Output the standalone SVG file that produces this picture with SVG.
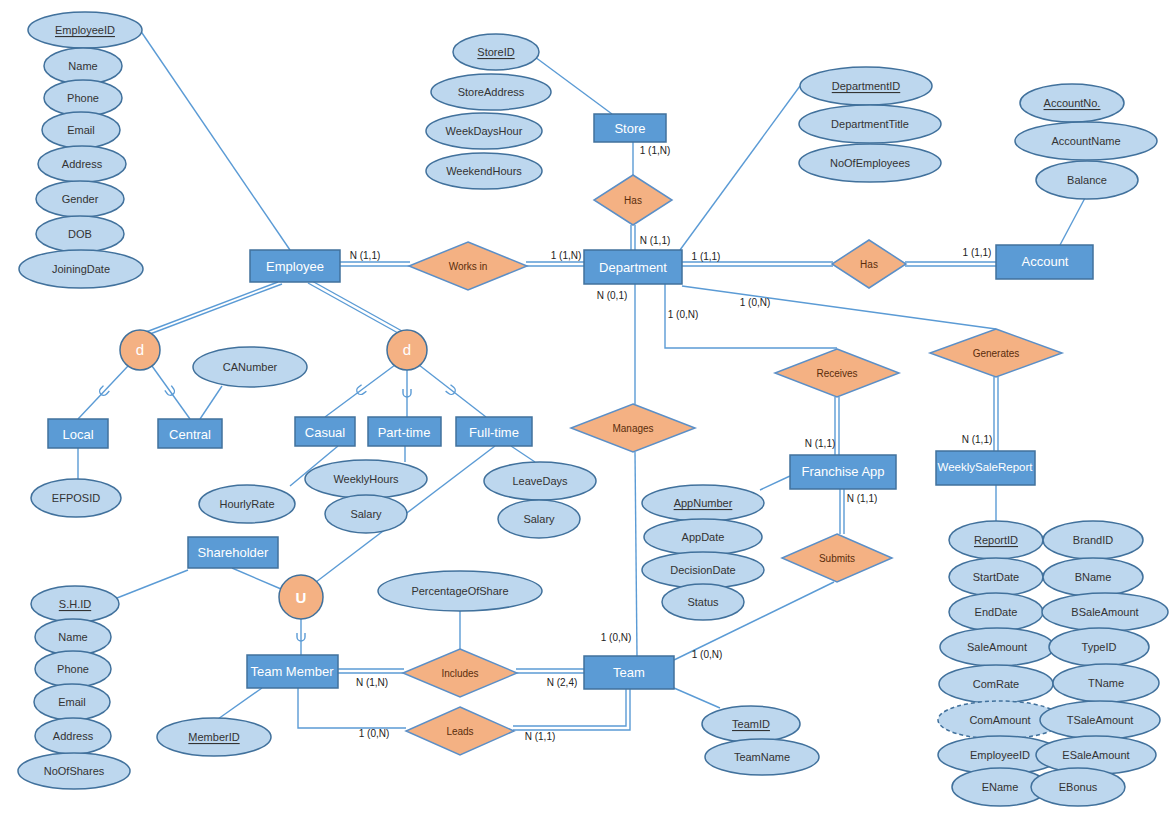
<svg xmlns="http://www.w3.org/2000/svg" width="1174" height="820" viewBox="0 0 1174 820">
<style>
text{font-family:"Liberation Sans",Arial,sans-serif;text-anchor:middle;dominant-baseline:central}
.ent rect{fill:#5b9bd5;stroke:#41719c;stroke-width:1.5}
.ent text{fill:#fff;font-size:13px}
.rel polygon{fill:#f4b183;stroke:#5b8fc7;stroke-width:1.5}
.rel text{fill:#5a2d0c;font-size:10px}
.att ellipse{fill:#bdd7ee;stroke:#41719c;stroke-width:1.5}
.att text{fill:#333;font-size:11px}
.key{text-decoration:underline}
.dash{stroke-dasharray:4,3}
.spec circle{fill:#f4b183;stroke:#41719c;stroke-width:1.5}
.spec text{fill:#fff;font-size:15px}
#conn line,#conn polyline{stroke:#5b9bd5;stroke-width:1.4;fill:none}
.lbl{font-size:10px;fill:#222}
</style>
<defs><path id="u" d="M-4,-5 v4 a4,4 0 0 0 8,0 v-4" fill="none" stroke="#5b9bd5" stroke-width="1.4"/></defs>
<g id="conn">
<line x1="140" y1="30" x2="290" y2="250"/>
<line x1="340" y1="262" x2="410" y2="262"/><line x1="340" y1="266" x2="410" y2="266"/>
<line x1="526" y1="262" x2="584" y2="262"/><line x1="526" y1="266" x2="584" y2="266"/>
<line x1="535" y1="57" x2="612" y2="114"/>
<line x1="633" y1="142" x2="633" y2="175"/>
<line x1="631" y1="225" x2="631" y2="250"/><line x1="635" y1="225" x2="635" y2="250"/>
<line x1="800" y1="86" x2="680" y2="250"/>
<line x1="682" y1="262" x2="833" y2="262"/><line x1="682" y1="266" x2="833" y2="266"/>
<line x1="905" y1="262" x2="996" y2="262"/><line x1="905" y1="266" x2="996" y2="266"/>
<line x1="1085" y1="198" x2="1060" y2="245"/>
<line x1="635" y1="284" x2="635" y2="404"/>
<line x1="635" y1="452" x2="637" y2="656"/>
<polyline points="665,284 665,348 837,348"/>
<line x1="835" y1="397" x2="835" y2="455"/><line x1="839" y1="397" x2="839" y2="455"/>
<line x1="682" y1="286" x2="996" y2="329"/>
<line x1="994" y1="377" x2="994" y2="451"/><line x1="998" y1="377" x2="998" y2="451"/>
<line x1="996" y1="485" x2="996" y2="522"/>
<line x1="790" y1="476" x2="760" y2="490"/>
<line x1="840" y1="489" x2="840" y2="534"/><line x1="844" y1="489" x2="844" y2="534"/>
<line x1="834" y1="582" x2="674" y2="660"/>
<line x1="674" y1="688" x2="720" y2="708"/>
<line x1="278" y1="282" x2="146" y2="332"/><line x1="282" y1="284" x2="150" y2="334"/>
<line x1="308" y1="283" x2="398" y2="333"/><line x1="312" y1="281" x2="402" y2="331"/>
<line x1="128" y1="366" x2="78" y2="419"/>
<line x1="152" y1="366" x2="190" y2="419"/>
<line x1="222" y1="386" x2="200" y2="419"/>
<line x1="78" y1="448" x2="78" y2="479"/>
<line x1="395" y1="365" x2="325" y2="417"/>
<line x1="407" y1="370" x2="407" y2="417"/>
<line x1="419" y1="365" x2="486" y2="417"/>
<line x1="338" y1="446" x2="290" y2="486"/>
<line x1="405" y1="446" x2="405" y2="462"/>
<line x1="511" y1="446" x2="535" y2="462"/>
<line x1="495" y1="446" x2="316" y2="582"/>
<line x1="232" y1="568" x2="281" y2="589"/>
<line x1="188" y1="570" x2="117" y2="598"/>
<line x1="301" y1="619" x2="301" y2="655"/>
<line x1="338" y1="669" x2="404" y2="669"/><line x1="338" y1="673" x2="404" y2="673"/>
<line x1="516" y1="669" x2="584" y2="669"/><line x1="516" y1="673" x2="584" y2="673"/>
<line x1="460" y1="611" x2="460" y2="649"/>
<polyline points="298,688 298,728 406,728"/>
<polyline points="626,689 626,726 513,726"/><polyline points="630,689 630,730 513,730"/>
<line x1="262" y1="688" x2="218" y2="719"/>
<use href="#u" transform="translate(103,392) rotate(43)"/>
<use href="#u" transform="translate(171,392) rotate(-36)"/>
<use href="#u" transform="translate(360,391) rotate(53)"/>
<use href="#u" transform="translate(407,394)"/>
<use href="#u" transform="translate(452,391) rotate(-52)"/>
<use href="#u" transform="translate(301,638)"/>
</g>
<g id="labels" class="lbl">
<text x="365" y="255" class="lbl">N (1,1)</text>
<text x="566" y="255" class="lbl">1 (1,N)</text>
<text x="655" y="150" class="lbl">1 (1,N)</text>
<text x="655" y="240" class="lbl">N (1,1)</text>
<text x="706" y="256" class="lbl">1 (1,1)</text>
<text x="977" y="252" class="lbl">1 (1,1)</text>
<text x="612" y="295" class="lbl">N (0,1)</text>
<text x="683" y="314" class="lbl">1 (0,N)</text>
<text x="755" y="302" class="lbl">1 (0,N)</text>
<text x="820" y="443" class="lbl">N (1,1)</text>
<text x="977" y="439" class="lbl">N (1,1)</text>
<text x="862" y="498" class="lbl">N (1,1)</text>
<text x="616" y="637" class="lbl">1 (0,N)</text>
<text x="707" y="654" class="lbl">1 (0,N)</text>
<text x="372" y="682" class="lbl">N (1,N)</text>
<text x="562" y="682" class="lbl">N (2,4)</text>
<text x="374" y="733" class="lbl">1 (0,N)</text>
<text x="540" y="736" class="lbl">N (1,1)</text>
</g>
<g id="Employee" class="ent"><rect x="250" y="250" width="90" height="32"/><text x="295" y="266">Employee</text></g>
<g id="Store" class="ent"><rect x="594" y="114" width="72" height="28"/><text x="630" y="128">Store</text></g>
<g id="Department" class="ent"><rect x="584" y="250" width="98" height="34"/><text x="633" y="267">Department</text></g>
<g id="Account" class="ent"><rect x="996" y="245" width="97" height="34"/><text x="1045" y="261">Account</text></g>
<g id="Local" class="ent"><rect x="48" y="419" width="60" height="29"/><text x="78" y="434">Local</text></g>
<g id="Central" class="ent"><rect x="158" y="419" width="64" height="29"/><text x="190" y="434">Central</text></g>
<g id="Casual" class="ent"><rect x="295" y="417" width="60" height="29"/><text x="325" y="432">Casual</text></g>
<g id="PartTime" class="ent"><rect x="368" y="417" width="73" height="29"/><text x="404" y="432">Part-time</text></g>
<g id="FullTime" class="ent"><rect x="456" y="417" width="76" height="29"/><text x="494" y="432">Full-time</text></g>
<g id="FranchiseApp" class="ent"><rect x="790" y="455" width="106" height="34"/><text x="843" y="471">Franchise App</text></g>
<g id="WeeklySaleReport" class="ent"><rect x="936" y="451" width="99" height="34"/><text x="985" y="467" style="font-size:11.5px">WeeklySaleReport</text></g>
<g id="Shareholder" class="ent"><rect x="188" y="537" width="90" height="31"/><text x="233" y="552">Shareholder</text></g>
<g id="TeamMember" class="ent"><rect x="247" y="655" width="91" height="33"/><text x="292" y="671">Team Member</text></g>
<g id="Team" class="ent"><rect x="584" y="656" width="90" height="33"/><text x="629" y="672">Team</text></g>
<g id="HasStore" class="rel"><polygon points="633,175 672,200 633,225 594,200"/><text x="633" y="200">Has</text></g>
<g id="WorksIn" class="rel"><polygon points="468,242 527,266 468,290 409,266"/><text x="468" y="266">Works in</text></g>
<g id="HasAccount" class="rel"><polygon points="869,240 906,264 869,288 832,264"/><text x="869" y="264">Has</text></g>
<g id="Receives" class="rel"><polygon points="837,349 899,373 837,397 775,373"/><text x="837" y="373">Receives</text></g>
<g id="Generates" class="rel"><polygon points="996,329 1062,353 996,377 930,353"/><text x="996" y="353">Generates</text></g>
<g id="Manages" class="rel"><polygon points="633,404 695,428 633,452 571,428"/><text x="633" y="428">Manages</text></g>
<g id="Submits" class="rel"><polygon points="837,534 892,558 837,582 782,558"/><text x="837" y="558">Submits</text></g>
<g id="Includes" class="rel"><polygon points="460,649 517,673 460,697 403,673"/><text x="460" y="673">Includes</text></g>
<g id="Leads" class="rel"><polygon points="460,707 514,731 460,755 406,731"/><text x="460" y="731">Leads</text></g>
<g id="d1" class="spec"><circle cx="140" cy="350" r="20"/><text x="140" y="349">d</text></g>
<g id="d2" class="spec"><circle cx="407" cy="350" r="20"/><text x="407" y="349">d</text></g>
<g id="union" class="spec"><circle cx="301" cy="597" r="22"/><text x="301" y="597" font-weight="bold">U</text></g>
<g class="att">
<g id="a-EmployeeID"><ellipse cx="85" cy="30" rx="57" ry="18"/><text x="85" y="30" class="key">EmployeeID</text></g>
<g id="a-Name"><ellipse cx="83" cy="66" rx="39" ry="18"/><text x="83" y="66">Name</text></g>
<g id="a-Phone"><ellipse cx="83" cy="98" rx="39" ry="18"/><text x="83" y="98">Phone</text></g>
<g id="a-Email"><ellipse cx="81" cy="130" rx="39" ry="18"/><text x="81" y="130">Email</text></g>
<g id="a-Address"><ellipse cx="82" cy="164" rx="44" ry="18"/><text x="82" y="164">Address</text></g>
<g id="a-Gender"><ellipse cx="80" cy="199" rx="44" ry="18"/><text x="80" y="199">Gender</text></g>
<g id="a-DOB"><ellipse cx="80" cy="234" rx="44" ry="18"/><text x="80" y="234">DOB</text></g>
<g id="a-JoiningDate"><ellipse cx="81" cy="269" rx="62" ry="19"/><text x="81" y="269">JoiningDate</text></g>
<g id="a-StoreID"><ellipse cx="496" cy="52" rx="43" ry="18"/><text x="496" y="52" class="key">StoreID</text></g>
<g id="a-StoreAddress"><ellipse cx="491" cy="92" rx="60" ry="18"/><text x="491" y="92">StoreAddress</text></g>
<g id="a-WeekDaysHour"><ellipse cx="484" cy="131" rx="58" ry="18"/><text x="484" y="131">WeekDaysHour</text></g>
<g id="a-WeekendHours"><ellipse cx="484" cy="171" rx="58" ry="18"/><text x="484" y="171">WeekendHours</text></g>
<g id="a-DepartmentID"><ellipse cx="866" cy="86" rx="66" ry="19"/><text x="866" y="86" class="key">DepartmentID</text></g>
<g id="a-DepartmentTitle"><ellipse cx="870" cy="124" rx="71" ry="19"/><text x="870" y="124">DepartmentTitle</text></g>
<g id="a-NoOfEmployees"><ellipse cx="870" cy="163" rx="71" ry="19"/><text x="870" y="163">NoOfEmployees</text></g>
<g id="a-AccountNo"><ellipse cx="1072" cy="103" rx="52" ry="19"/><text x="1072" y="103" class="key">AccountNo.</text></g>
<g id="a-AccountName"><ellipse cx="1086" cy="141" rx="71" ry="19"/><text x="1086" y="141">AccountName</text></g>
<g id="a-Balance"><ellipse cx="1087" cy="180" rx="51" ry="19"/><text x="1087" y="180">Balance</text></g>
<g id="a-CANumber"><ellipse cx="250" cy="367" rx="57" ry="20"/><text x="250" y="367">CANumber</text></g>
<g id="a-EFPOSID"><ellipse cx="76" cy="498" rx="45" ry="19"/><text x="76" y="498">EFPOSID</text></g>
<g id="a-HourlyRate"><ellipse cx="247" cy="504" rx="48" ry="19"/><text x="247" y="504">HourlyRate</text></g>
<g id="a-WeeklyHours"><ellipse cx="366" cy="479" rx="61" ry="19"/><text x="366" y="479">WeeklyHours</text></g>
<g id="a-SalaryPT"><ellipse cx="366" cy="514" rx="41" ry="19"/><text x="366" y="514">Salary</text></g>
<g id="a-LeaveDays"><ellipse cx="540" cy="481" rx="56" ry="19"/><text x="540" y="481">LeaveDays</text></g>
<g id="a-SalaryFT"><ellipse cx="539" cy="519" rx="41" ry="19"/><text x="539" y="519">Salary</text></g>
<g id="a-AppNumber"><ellipse cx="703" cy="503" rx="61" ry="18"/><text x="703" y="503" class="key">AppNumber</text></g>
<g id="a-AppDate"><ellipse cx="703" cy="537" rx="59" ry="18"/><text x="703" y="537">AppDate</text></g>
<g id="a-DecisionDate"><ellipse cx="703" cy="570" rx="61" ry="18"/><text x="703" y="570">DecisionDate</text></g>
<g id="a-Status"><ellipse cx="703" cy="602" rx="41" ry="18"/><text x="703" y="602">Status</text></g>
<g id="a-PercentageOfShare"><ellipse cx="460" cy="591" rx="82" ry="20"/><text x="460" y="591">PercentageOfShare</text></g>
<g id="a-SHID"><ellipse cx="75" cy="604" rx="44" ry="18"/><text x="75" y="604" class="key">S.H.ID</text></g>
<g id="a-SHName"><ellipse cx="73" cy="637" rx="38" ry="18"/><text x="73" y="637">Name</text></g>
<g id="a-SHPhone"><ellipse cx="73" cy="669" rx="38" ry="18"/><text x="73" y="669">Phone</text></g>
<g id="a-SHEmail"><ellipse cx="72" cy="702" rx="38" ry="18"/><text x="72" y="702">Email</text></g>
<g id="a-SHAddress"><ellipse cx="73" cy="736" rx="38" ry="18"/><text x="73" y="736">Address</text></g>
<g id="a-NoOfShares"><ellipse cx="74" cy="771" rx="56" ry="18"/><text x="74" y="771">NoOfShares</text></g>
<g id="a-MemberID"><ellipse cx="214" cy="737" rx="57" ry="19"/><text x="214" y="737" class="key">MemberID</text></g>
<g id="a-TeamID"><ellipse cx="751" cy="724" rx="49" ry="18"/><text x="751" y="724" class="key">TeamID</text></g>
<g id="a-TeamName"><ellipse cx="762" cy="757" rx="57" ry="18"/><text x="762" y="757">TeamName</text></g>
<g id="a-ReportID"><ellipse cx="996" cy="540" rx="47" ry="19"/><text x="996" y="540" class="key">ReportID</text></g>
<g id="a-StartDate"><ellipse cx="996" cy="577" rx="47" ry="19"/><text x="996" y="577">StartDate</text></g>
<g id="a-EndDate"><ellipse cx="996" cy="612" rx="47" ry="19"/><text x="996" y="612">EndDate</text></g>
<g id="a-SaleAmount"><ellipse cx="997" cy="647" rx="57" ry="19"/><text x="997" y="647">SaleAmount</text></g>
<g id="a-ComRate"><ellipse cx="996" cy="684" rx="57" ry="19"/><text x="996" y="684">ComRate</text></g>
<g id="a-ComAmount"><ellipse cx="1000" cy="720" rx="62" ry="19" class="dash"/><text x="1000" y="720">ComAmount</text></g>
<g id="a-EmployeeID2"><ellipse cx="1000" cy="755" rx="62" ry="19"/><text x="1000" y="755">EmployeeID</text></g>
<g id="a-EName"><ellipse cx="1000" cy="787" rx="48" ry="19"/><text x="1000" y="787">EName</text></g>
<g id="a-BrandID"><ellipse cx="1093" cy="540" rx="50" ry="19"/><text x="1093" y="540">BrandID</text></g>
<g id="a-BName"><ellipse cx="1093" cy="577" rx="50" ry="19"/><text x="1093" y="577">BName</text></g>
<g id="a-BSaleAmount"><ellipse cx="1105" cy="612" rx="63" ry="19"/><text x="1105" y="612">BSaleAmount</text></g>
<g id="a-TypeID"><ellipse cx="1099" cy="647" rx="50" ry="19"/><text x="1099" y="647">TypeID</text></g>
<g id="a-TName"><ellipse cx="1106" cy="683" rx="53" ry="19"/><text x="1106" y="683">TName</text></g>
<g id="a-TSaleAmount"><ellipse cx="1100" cy="720" rx="60" ry="19"/><text x="1100" y="720">TSaleAmount</text></g>
<g id="a-ESaleAmount"><ellipse cx="1096" cy="755" rx="60" ry="19"/><text x="1096" y="755">ESaleAmount</text></g>
<g id="a-EBonus"><ellipse cx="1078" cy="787" rx="47" ry="19"/><text x="1078" y="787">EBonus</text></g>
</g>
</svg>
